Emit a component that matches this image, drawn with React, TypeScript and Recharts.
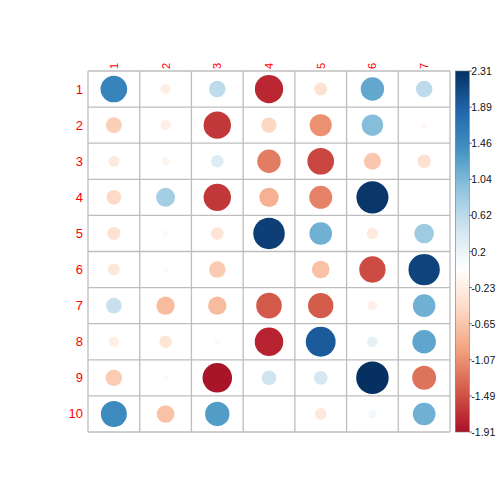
import { ScatterChart, Scatter, XAxis, YAxis, ReferenceLine } from 'recharts';

const COL_LABELS = ['1', '2', '3', '4', '5', '6', '7'];
const ROW_LABELS = ['1', '2', '3', '4', '5', '6', '7', '8', '9', '10'];

// one array per row, columns 1..7
const VALUES = [
  [1.55, -0.22, 0.6, -1.75, -0.37, 1.2, 0.6],
  [-0.56, -0.22, -1.64, -0.5, -1.06, 1.0, -0.09],
  [-0.27, -0.14, 0.34, -1.2, -1.55, -0.63, -0.39],
  [-0.47, 0.79, -1.64, -0.82, -1.16, 2.25, -0.05],
  [-0.37, -0.09, -0.35, 2.18, 1.12, -0.28, 0.84],
  [-0.31, -0.06, -0.6, 0, -0.68, -1.52, 2.15],
  [0.53, -0.74, -0.74, -1.43, -1.41, -0.19, 1.12],
  [-0.22, -0.34, -0.08, -1.78, 1.95, 0.25, 1.22],
  [-0.59, -0.08, -1.91, 0.47, 0.42, 2.31, -1.26],
  [1.48, -0.68, 1.3, 0, -0.3, 0.14, 1.12],
];

const CBAR_MAX = 2.31;
const CBAR_MIN = -1.91;
const CBAR_LABELS = ['2.31', '1.89', '1.46', '1.04', '0.62', '0.2', '-0.23', '-0.65', '-1.07', '-1.49', '-1.91'];

// corrplot COL2('RdBu'), from -1 to 1
const PALETTE = ['#67001F', '#B2182B', '#D6604D', '#F4A582', '#FDDBC7', '#FFFFFF', '#D1E5F0', '#92C5DE', '#4393C3', '#2166AC', '#053061'];

const FONT = '"Liberation Sans", Arial, Helvetica, sans-serif';
const W = 496;
const H = 496;
const MARGIN = { top: 43, right: 54, bottom: 72, left: 50 };
const PLOT_TOP = 63;
const PLOT_H = 361;
const CELL_H = PLOT_H / ROW_LABELS.length;
const MAX_R = 0.45 * CELL_H;
const ABS_MAX = Math.max(Math.abs(CBAR_MIN), Math.abs(CBAR_MAX));

function hexToRgb(h: string) {
  return [parseInt(h.slice(1, 3), 16), parseInt(h.slice(3, 5), 16), parseInt(h.slice(5, 7), 16)];
}

function colorFor(v: number): string {
  const s = Math.max(-1, Math.min(1, v / ABS_MAX));
  const pos = ((s + 1) / 2) * (PALETTE.length - 1);
  const i = Math.min(PALETTE.length - 2, Math.floor(pos));
  const f = pos - i;
  const a = hexToRgb(PALETTE[i]);
  const b = hexToRgb(PALETTE[i + 1]);
  const c = a.map((x, k) => Math.round(x + (b[k] - x) * f));
  return `rgb(${c[0]},${c[1]},${c[2]})`;
}

const points = VALUES.flatMap((row, r) => row.map((value, c) => ({ col: c + 1, row: r + 1, value })));
const xBounds = COL_LABELS.map((_, i) => i + 0.5).concat(COL_LABELS.length + 0.5);
const yBounds = ROW_LABELS.map((_, i) => i + 0.5).concat(ROW_LABELS.length + 0.5);

function Bubble(props: any) {
  const { cx, cy, payload } = props;
  if (payload.value === 0) return null;
  const r = MAX_R * Math.sqrt(Math.abs(payload.value) / ABS_MAX);
  return <circle cx={cx} cy={cy} r={r} fill={colorFor(payload.value)} />;
}

function ColTick({ x, y, payload }: any) {
  return (
    <text x={x} y={y} transform={`rotate(-90 ${x} ${y})`} textAnchor="start" dominantBaseline="central"
      fill="#FF0000" fontSize={11} fontFamily={FONT}>
      {COL_LABELS[payload.value - 1]}
    </text>
  );
}

function RowTick({ x, y, payload }: any) {
  return (
    <text x={x} y={y} textAnchor="end" dominantBaseline="central" fill="#FF0000" fontSize={13} fontFamily={FONT}>
      {ROW_LABELS[payload.value - 1]}
    </text>
  );
}

function ColorBar() {
  const x = 447.3;
  const w = 14;
  const stops = Array.from({ length: 41 }, (_, i) => i / 40);
  return (
    <svg width={W} height={H} style={{ position: 'absolute', left: 0, top: 0, pointerEvents: 'none', overflow: 'visible' }}>
      <defs>
        <linearGradient id="cbar" x1="0" y1="0" x2="0" y2="1">
          {stops.map((t) => (
            <stop key={t} offset={t} stopColor={colorFor(CBAR_MAX - t * (CBAR_MAX - CBAR_MIN))} />
          ))}
        </linearGradient>
      </defs>
      <rect x={x} y={PLOT_TOP} width={w} height={PLOT_H} fill="url(#cbar)" stroke="#777" strokeWidth={0.6} />
      {CBAR_LABELS.map((lab, i) => {
        const y = PLOT_TOP + (i / (CBAR_LABELS.length - 1)) * PLOT_H;
        return (
          <g key={lab}>
            <line x1={x + w} x2={x + w + 2.5} y1={y} y2={y} stroke="#444" strokeWidth={0.8} />
            <text x={x + w + 2} y={y} dominantBaseline="central" fontSize={10.5} fontFamily={FONT} fill="#111">
              {lab}
            </text>
          </g>
        );
      })}
    </svg>
  );
}

export default function App() {
  return (
    <div style={{ position: 'relative', width: W, height: H }}>
      <ScatterChart width={W} height={H} margin={MARGIN}>
        <XAxis type="number" dataKey="col" orientation="top" domain={[0.5, COL_LABELS.length + 0.5]}
          ticks={COL_LABELS.map((_, i) => i + 1)} height={20} axisLine={false} tickLine={false}
          tickSize={0} tickMargin={2} tick={<ColTick />} interval={0} />
        <YAxis type="number" dataKey="row" reversed domain={[0.5, ROW_LABELS.length + 0.5]}
          ticks={ROW_LABELS.map((_, i) => i + 1)} width={30} axisLine={false} tickLine={false}
          tickSize={0} tickMargin={5} tick={<RowTick />} interval={0} />
        {xBounds.map((b) => (
          <ReferenceLine key={`x${b}`} x={b} stroke="#BEBEBE" strokeWidth={1.3} />
        ))}
        {yBounds.map((b) => (
          <ReferenceLine key={`y${b}`} y={b} stroke="#BEBEBE" strokeWidth={1.3} />
        ))}
        <Scatter data={points} shape={<Bubble />} isAnimationActive={false} />
      </ScatterChart>
      <ColorBar />
    </div>
  );
}
